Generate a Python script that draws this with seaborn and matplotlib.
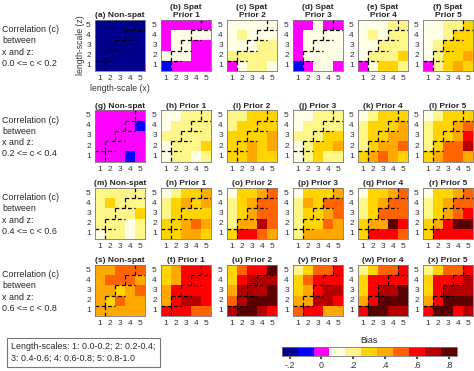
import numpy as np
import pandas as pd
import matplotlib
matplotlib.use('Agg')
import matplotlib.pyplot as plt
import seaborn as sns
from matplotlib.colors import ListedColormap

# length-scale classes (x and z axes)
length_scales = [1, 2, 3, 4, 5]

# bias per panel, rows listed from z=5 (top) down to z=1, columns x=1..5
bias_a = [[-0.2]*5, [-0.2]*5, [-0.2]*5, [-0.2]*5, [-0.2]*5]
bias_b = [[0, 0, 0, 0, 0], [0, .1, .1, .1, .1], [0, .1, .1, 0, 0], [.1, .1, .1, 0, 0], [-.1, 0, 0, 0, 0]]
bias_c = [[.1, .1, .1, .1, .1], [.1, .2, .1, .1, .1], [.1, .1, .1, .2, .2], [.2, .2, .2, .2, .2], [0, .1, .2, .2, .1]]
bias_d = [[0, 0, .1, 0, 0], [0, .1, .1, .1, .1], [0, .1, .1, .1, .1], [0, .1, .1, .1, .1], [-.1, 0, .1, .1, 0]]
bias_e = [[.1, .1, .1, .2, .2], [.1, .2, .1, .2, .2], [.1, .1, .2, .2, .2], [.1, .2, .2, .2, .3], [0, .1, .3, .3, .2]]
bias_f = [[.1, .1, .2, .2, .3], [.1, .1, .2, .3, .3], [.1, .2, .3, .3, .3], [.1, .2, .3, .3, .4], [0, .2, .3, .4, .3]]

bias_g = [[0, 0, 0, 0, 0], [0, 0, 0, 0, -.1], [0, 0, 0, 0, 0], [0, 0, 0, 0, 0], [0, 0, 0, -.1, 0]]
bias_h = [[.1, .1, .2, .2, .2], [.1, .2, .2, .2, .2], [.2, .2, .2, .2, .2], [.1, .2, .2, .2, .3], [.1, .2, .2, .1, .2]]
bias_i = [[.2, .2, .3, .3, .3], [.2, .3, .3, .3, .3], [.3, .3, .3, .3, .4], [.3, .3, .4, .3, .4], [.3, .3, .4, .3, .3]]
bias_j = [[.1, .1, .2, .2, .2], [.1, .2, .2, .2, .2], [.2, .2, .2, .3, .3], [.1, .2, .3, .3, .4], [.1, .2, .3, .2, .2]]
bias_k = [[.1, .2, .3, .3, .3], [.2, .3, .3, .3, .4], [.2, .3, .3, .4, .4], [.2, .3, .4, .4, .5], [.3, .4, .5, .4, .3]]
bias_l = [[.1, .2, .3, .3, .3], [.2, .3, .3, .4, .5], [.2, .3, .3, .4, .6], [.2, .3, .5, .5, .7], [.3, .4, .5, .5, .4]]

bias_m = [[.2, .2, .2, .2, .2], [.2, .3, .2, .2, .2], [.2, .2, .2, .2, .3], [.2, .2, .2, .1, .2], [.1, .2, .2, .1, .2]]
bias_n = [[.1, .2, .3, .3, .4], [.2, .3, .4, .3, .4], [.2, .3, .3, .3, .3], [.3, .3, .4, .5, .4], [.3, .3, .4, .4, .3]]
bias_o = [[.1, .3, .3, .4, .5], [.2, .3, .4, .5, .5], [.2, .3, .4, .5, .5], [.2, .4, .4, .7, .5], [.3, .6, .6, .5, .4]]
bias_p = [[.1, .3, .3, .3, .4], [.2, .4, .3, .5, .5], [.2, .3, .3, .4, .5], [.2, .3, .3, .5, .4], [.2, .4, .4, .4, .4]]
bias_q = [[.1, .3, .3, .4, .5], [.2, .3, .4, .5, .5], [.2, .3, .5, .5, .5], [.3, .4, .4, .8, .6], [.3, .6, .6, .6, .5]]
bias_r = [[.1, .3, .3, .4, .5], [.2, .3, .4, .5, .5], [.2, .3, .4, .5, .6], [.3, .4, .6, .8, .8], [.3, .6, .6, .6, .6]]

bias_s = [[.4, .4, .5, .5, .5], [.4, .5, .5, .5, .4], [.4, .4, .3, .4, .5], [.4, .3, .5, .4, .4], [.4, .4, .4, .4, .4]]
bias_t = [[.3, .4, .6, .6, .6], [.3, .4, .6, .6, .6], [.4, .6, .6, .6, .6], [.4, .6, .7, .7, .6], [.6, .6, .6, .5, .5]]
bias_u = [[.3, .5, .6, .6, .8], [.3, .6, .7, .7, .7], [.4, .7, .7, .7, .8], [.5, .7, .8, .8, .8], [.7, .8, .8, .7, .6]]
bias_v = [[.2, .3, .5, .5, .6], [.3, .5, .6, .6, .6], [.3, .4, .6, .7, .7], [.4, .4, .7, .7, .6], [.5, .6, .6, .4, .4]]
bias_w = [[.2, .3, .5, .5, .6], [.3, .6, .6, .6, .6], [.3, .6, .7, .7, .8], [.4, .6, .8, .8, .8], [.6, .8, .8, .7, .7]]
bias_x = [[.2, .3, .5, .5, .6], [.3, .6, .6, .6, .7], [.3, .6, .7, .7, .7], [.4, .6, .8, .8, .8], [.6, .8, .8, .6, .7]]

panels = [bias_a, bias_b, bias_c, bias_d, bias_e, bias_f,
          bias_g, bias_h, bias_i, bias_j, bias_k, bias_l,
          bias_m, bias_n, bias_o, bias_p, bias_q, bias_r,
          bias_s, bias_t, bias_u, bias_v, bias_w, bias_x]

titles = ['(a) Non-spat', '(b) Spat\nPrior 1', '(c) Spat\nPrior 2', '(d) Spat\nPrior 3', '(e) Spat\nPrior 4', '(f) Spat\nPrior 5',
          '(g) Non-spat', '(h) Prior 1', '(i) Prior 2', '(j) Prior 3', '(k) Prior 4', '(l) Prior 5',
          '(m) Non-spat', '(n) Prior 1', '(o) Prior 2', '(p) Prior 3', '(q) Prior 4', '(r) Prior 5',
          '(s) Non-spat', '(t) Prior 1', '(u) Prior 2', '(v) Prior 3', '(w) Prior 4', '(x) Prior 5']

corr_ranges = ['0.0 <= c < 0.2', '0.2 <= c < 0.4', '0.4 <= c < 0.6', '0.6 <= c < 0.8']

bias_ticks = [-0.2, 0, 0.2, 0.4, 0.6, 0.8]
bias_tick_labels = ['-.2', '0', '.2', '.4', '.6', '.8']

# discrete colour bins, 0.1 wide, from -0.25 to 0.85
bin_colors = ['#00008C', '#0000FF', '#FF00FF', '#FFFFE6', '#FFF68A', '#FFD400',
              '#FFA800', '#FF6400', '#FF0000', '#B40000', '#5A0000']
cmap = ListedColormap(bin_colors)

sns.set_theme(style='white')
plt.rcParams['font.family'] = ['Liberation Sans', 'DejaVu Sans']

W, H = 474, 371
fig = plt.figure(figsize=(W / 100, H / 100), dpi=100)

col_left = [95, 161, 227, 293, 358, 423]
row_top = [20, 110.5, 188, 265]
pw, ph = 50, 51

first_mesh = None
for idx, vals in enumerate(panels):
    r, c = divmod(idx, 6)
    ax = fig.add_axes([col_left[c] / W, 1 - (row_top[r] + ph) / H, pw / W, ph / H])
    df = pd.DataFrame(vals, index=length_scales[::-1], columns=length_scales)
    sns.heatmap(df, ax=ax, cmap=cmap, vmin=-0.25, vmax=0.85, cbar=False, linewidths=0,
                xticklabels=True, yticklabels=True)
    if first_mesh is None:
        first_mesh = ax.collections[0]

    # dashed staircase along the diagonal
    n = len(length_scales)
    dash = dict(color='black', lw=0.9, ls=(0, (3, 2)))
    for k in length_scales[:-1]:
        ax.plot([k - 1, min(k + 1, n)], [n - k, n - k], **dash)
    ax.plot([1, 1], [n - 1, n], **dash)
    for k in length_scales[1:]:
        ax.plot([k - 1, k - 1], [n - k, n - k + 1], **dash)

    ax.set_title(titles[idx], fontsize=6, fontweight='bold', pad=2, linespacing=1.3)
    ax.tick_params(length=0, labelsize=6, pad=3, colors='#333333')
    plt.setp(ax.get_yticklabels(), rotation=0)
    plt.setp(ax.get_xticklabels(), rotation=0)
    for s in ax.spines.values():
        s.set_visible(True)
        s.set_linewidth(0.6)
        s.set_color('#777777')
    if idx == 0:
        ax.set_xlabel('length-scale (x)', fontsize=6.2, color='#333333', labelpad=1)
        ax.set_ylabel('length-scale (z)', fontsize=6.2, color='#333333', labelpad=1)
    else:
        ax.set_xlabel('')
        ax.set_ylabel('')

# row labels on the left
for r, rng in enumerate(corr_ranges):
    yc = row_top[r] + ph / 2 + 1
    fig.text(2 / W, 1 - yc / H, 'Correlation (c)\nbetween\nx and z:\n' + rng,
             fontsize=6.4, ha='left', va='center', linespacing=1.3)

# length-scale key box
fig.text(11 / W, 1 - 352.5 / H,
         'Length-scales: 1: 0.0-0.2; 2: 0.2-0.4;\n3: 0.4-0.6; 4: 0.6-0.8; 5: 0.8-1.0',
         fontsize=6.4, ha='left', va='center', linespacing=1.35,
         bbox=dict(boxstyle='square,pad=0.45', fc='white', ec='#777777', lw=0.8))

# colour bar
cax = fig.add_axes([281.7 / W, 1 - 355.5 / H, 175 / W, 8.3 / H])
cb = fig.colorbar(first_mesh, cax=cax, orientation='horizontal', ticks=bias_ticks)
cb.set_ticklabels(bias_tick_labels)
cb.ax.tick_params(labelsize=6.4, length=2, pad=2, colors='#333333')
cb.outline.set_edgecolor('#777777')
cb.outline.set_linewidth(0.6)
cax.set_title('Bias', fontsize=6.4, pad=3)

fig.savefig('out.png', dpi=100)
